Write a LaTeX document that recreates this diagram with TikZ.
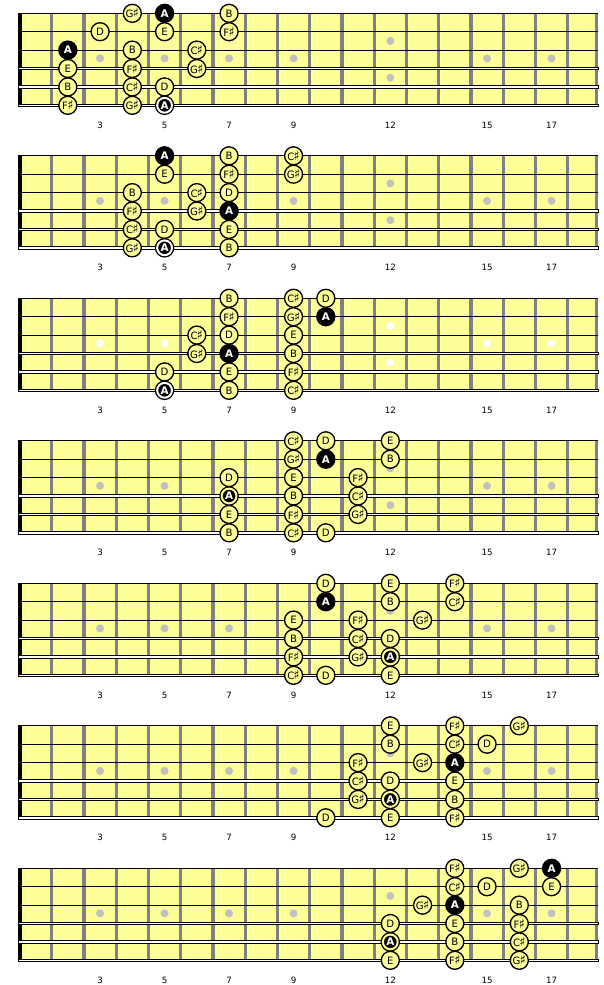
\documentclass[tikz,border=0pt]{standalone}
\usepackage{fontspec}
\setmainfont{DejaVu Sans}
\definecolor{board}{RGB}{255,255,153}
\definecolor{fretgray}{RGB}{128,128,128}
\definecolor{inlay}{RGB}{192,192,192}
\newcommand\shp{{\fontsize{9.5}{8}\selectfont\kern-0.6pt♯}}

\begin{document}
\begin{tikzpicture}[line cap=butt,x=24.1875pt,y=-13.8pt,
  note/.style={circle,draw=black,line width=1pt,fill=board,minimum size=13.5pt,inner sep=0pt,font=\fontsize{7.6}{8}\selectfont},
  root/.style={note,fill=black,text=white,font=\fontsize{7.8}{8}\selectfont\bfseries},
  lowroot/.style={root,minimum size=11.1pt,double=#1,double distance=1.5pt},
  fretnum/.style={font=\fontsize{6.5}{7}\selectfont}]
\useasboundingbox (-0.603,-0.723) rectangle (18.095,52.81);
% the seven empty necks
\foreach \k/\dotcol in {0/inlay,1/inlay,2/white,3/inlay,4/inlay,5/inlay,6/inlay}{
\begin{scope}[shift={(0,7.7446*\k)}]
\fill[board] (-0.036,0) rectangle (17.94,5);
\foreach \f in {1,...,17} \draw[fretgray,line width=2.5pt] (\f,0)--(\f,5);
\draw[fretgray,line width=2.5pt] (17.89,0)--(17.89,5);
\foreach \f in {3,5,7,9,15,17} \fill[\dotcol] (\f-0.5,2.45) circle (3pt);
\fill[\dotcol] (11.5,1.5) circle (3pt) (11.5,3.5) circle (3pt);
\fill[black] (-0.036,0) rectangle (0.088,5);
\foreach \s in {0,1,2} \draw[line width=0.75pt] (-0.036,\s)--(17.94,\s);
\foreach \s in {3,4,5} \filldraw[fill=white,draw=black,line width=0.75pt] (-0.036,\s-0.065) rectangle (17.94,\s+0.065);
\foreach \f in {3,5,7,9,12,15,17} \node[fretnum] (n\k-\f) at (\f-0.5,6.07) {\f};
\end{scope}}
% position 1
\begin{scope}[shift={(0,0)}]
\foreach \f/\s/\n in {4/1/G\shp,7/1/B,3/2/D,5/2/E,7/2/F\shp,4/3/B,6/3/C\shp,2/4/E,4/4/F\shp,6/4/G\shp,2/5/B,4/5/C\shp,5/5/D,2/6/F\shp,4/6/G\shp}
  \node[note] (p1-\f-\s) at (\f-0.5,\s-1) {\n};
\node[root] (p1-5-1) at (4.5,0) {A};
\node[root] (p1-2-3) at (1.5,2) {A};
\node[lowroot=white] (p1-5-6) at (4.5,5) {A};
\end{scope}
% position 2
\begin{scope}[shift={(0,7.7446)}]
\foreach \f/\s/\n in {7/1/B,9/1/C\shp,5/2/E,7/2/F\shp,9/2/G\shp,4/3/B,6/3/C\shp,7/3/D,4/4/F\shp,6/4/G\shp,4/5/C\shp,5/5/D,7/5/E,4/6/G\shp,7/6/B}
  \node[note] (p2-\f-\s) at (\f-0.5,\s-1) {\n};
\node[root] (p2-5-1) at (4.5,0) {A};
\node[root] (p2-7-4) at (6.5,3) {A};
\node[lowroot=white] (p2-5-6) at (4.5,5) {A};
\end{scope}
% position 3
\begin{scope}[shift={(0,2*7.7446)}]
\foreach \f/\s/\n in {7/1/B,9/1/C\shp,10/1/D,7/2/F\shp,9/2/G\shp,6/3/C\shp,7/3/D,9/3/E,6/4/G\shp,9/4/B,5/5/D,7/5/E,9/5/F\shp,7/6/B,9/6/C\shp}
  \node[note] (p3-\f-\s) at (\f-0.5,\s-1) {\n};
\node[root] (p3-10-2) at (9.5,1) {A};
\node[root] (p3-7-4) at (6.5,3) {A};
\node[lowroot=white] (p3-5-6) at (4.5,5) {A};
\end{scope}
% position 4
\begin{scope}[shift={(0,3*7.7446)}]
\foreach \f/\s/\n in {9/1/C\shp,10/1/D,12/1/E,9/2/G\shp,12/2/B,7/3/D,9/3/E,11/3/F\shp,9/4/B,11/4/C\shp,7/5/E,9/5/F\shp,11/5/G\shp,7/6/B,9/6/C\shp,10/6/D}
  \node[note] (p4-\f-\s) at (\f-0.5,\s-1) {\n};
\node[root] (p4-10-2) at (9.5,1) {A};
\node[lowroot=board] (p4-7-4) at (6.5,3) {A};
\end{scope}
% position 5
\begin{scope}[shift={(0,4*7.7446)}]
\foreach \f/\s/\n in {10/1/D,12/1/E,14/1/F\shp,12/2/B,14/2/C\shp,9/3/E,11/3/F\shp,13/3/G\shp,9/4/B,11/4/C\shp,12/4/D,9/5/F\shp,11/5/G\shp,9/6/C\shp,10/6/D,12/6/E}
  \node[note] (p5-\f-\s) at (\f-0.5,\s-1) {\n};
\node[root] (p5-10-2) at (9.5,1) {A};
\node[lowroot=board] (p5-12-5) at (11.5,4) {A};
\end{scope}
% position 6
\begin{scope}[shift={(0,5*7.7446)}]
\foreach \f/\s/\n in {12/1/E,14/1/F\shp,16/1/G\shp,12/2/B,14/2/C\shp,15/2/D,11/3/F\shp,13/3/G\shp,11/4/C\shp,12/4/D,14/4/E,11/5/G\shp,14/5/B,10/6/D,12/6/E,14/6/F\shp}
  \node[note] (p6-\f-\s) at (\f-0.5,\s-1) {\n};
\node[root] (p6-14-3) at (13.5,2) {A};
\node[lowroot=board] (p6-12-5) at (11.5,4) {A};
\end{scope}
% position 7
\begin{scope}[shift={(0,6*7.7446)}]
\foreach \f/\s/\n in {14/1/F\shp,16/1/G\shp,14/2/C\shp,15/2/D,17/2/E,13/3/G\shp,16/3/B,12/4/D,14/4/E,16/4/F\shp,14/5/B,16/5/C\shp,12/6/E,14/6/F\shp,16/6/G\shp}
  \node[note] (p7-\f-\s) at (\f-0.5,\s-1) {\n};
\node[root] (p7-17-1) at (16.5,0) {A};
\node[root] (p7-14-3) at (13.5,2) {A};
\node[lowroot=board] (p7-12-5) at (11.5,4) {A};
\end{scope}
\end{tikzpicture}
\end{document}
